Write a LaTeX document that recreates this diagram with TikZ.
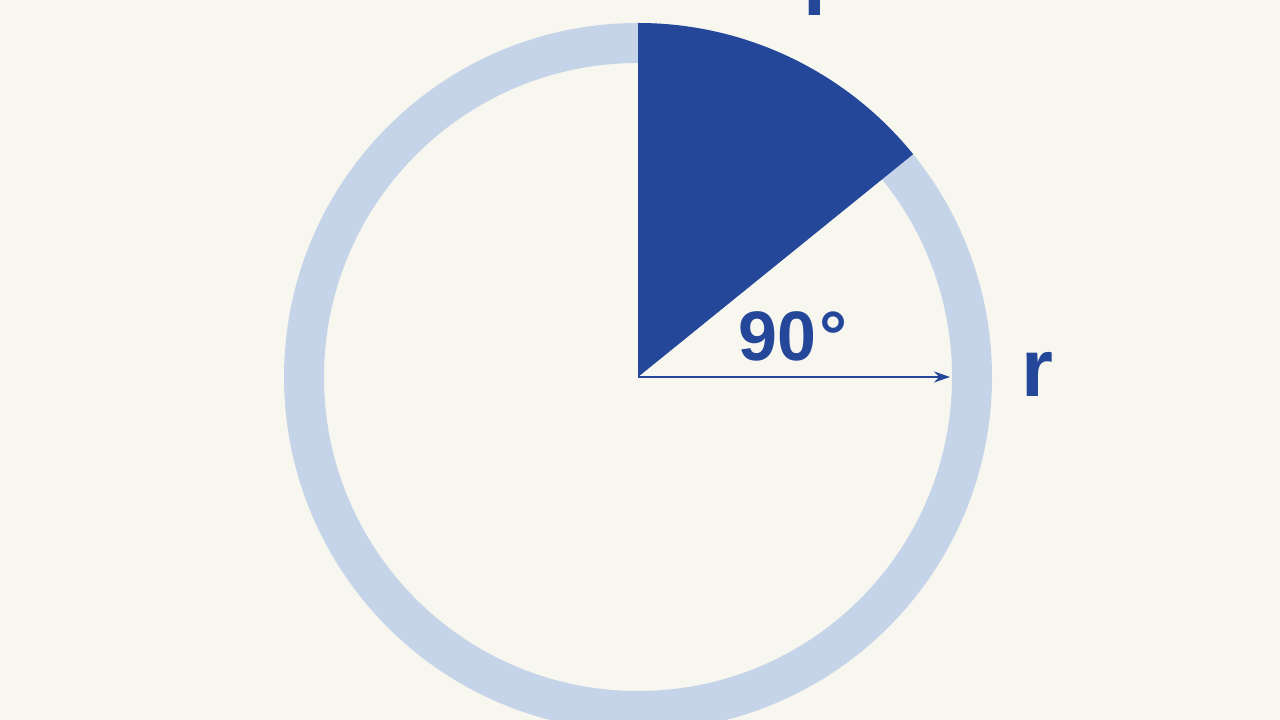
\documentclass[tikz,border=0pt]{standalone}
\usepackage{fontspec}
\setmainfont{Liberation Sans}
\usepackage{xcolor}
\definecolor{sectorblue}{HTML}{24479A}
\definecolor{ringblue}{HTML}{C6D4E9}
\definecolor{paper}{HTML}{F8F7EF}
\usetikzlibrary{arrows.meta}
\usetikzlibrary{positioning}

\begin{document}
\begin{tikzpicture}[x=1pt, y=1pt]
	%background
	\fill[paper] (0,0) rectangle (1280,720);
	\useasboundingbox (0,0) rectangle (1280,720);
	\clip (0,0) rectangle (1280,720);
	\coordinate (O) at (638,343);
	\coordinate (rtip) at (950,343);
	
	%circle
	\draw[ringblue, line width=40pt] (O) circle (334pt);
	
	%sector
	\fill[sectorblue] (O) -- ([shift={(39:354pt)}]O) arc[start angle=39, end angle=90, radius=354pt] -- cycle;
	
	%draw arrow
	\draw[sectorblue, line width=2.2pt, -{Stealth[length=16pt, width=11pt]}] (O) -- (rtip);
	
	%labels
	\node[anchor=base, sectorblue, font=\bfseries\fontsize{70}{70}\selectfont, inner sep=0pt] (angle) at (793,359) {9\kern1pt0\kern3pt°};
	\node[anchor=base west, sectorblue, font=\bfseries\fontsize{82}{82}\selectfont, inner sep=0pt] (radius) at (1021,323) {r};
	\node[anchor=base west, sectorblue, font=\bfseries\fontsize{82}{82}\selectfont, inner sep=0pt] (toplabel) at (803,704) {r};
\end{tikzpicture}
\end{document}
